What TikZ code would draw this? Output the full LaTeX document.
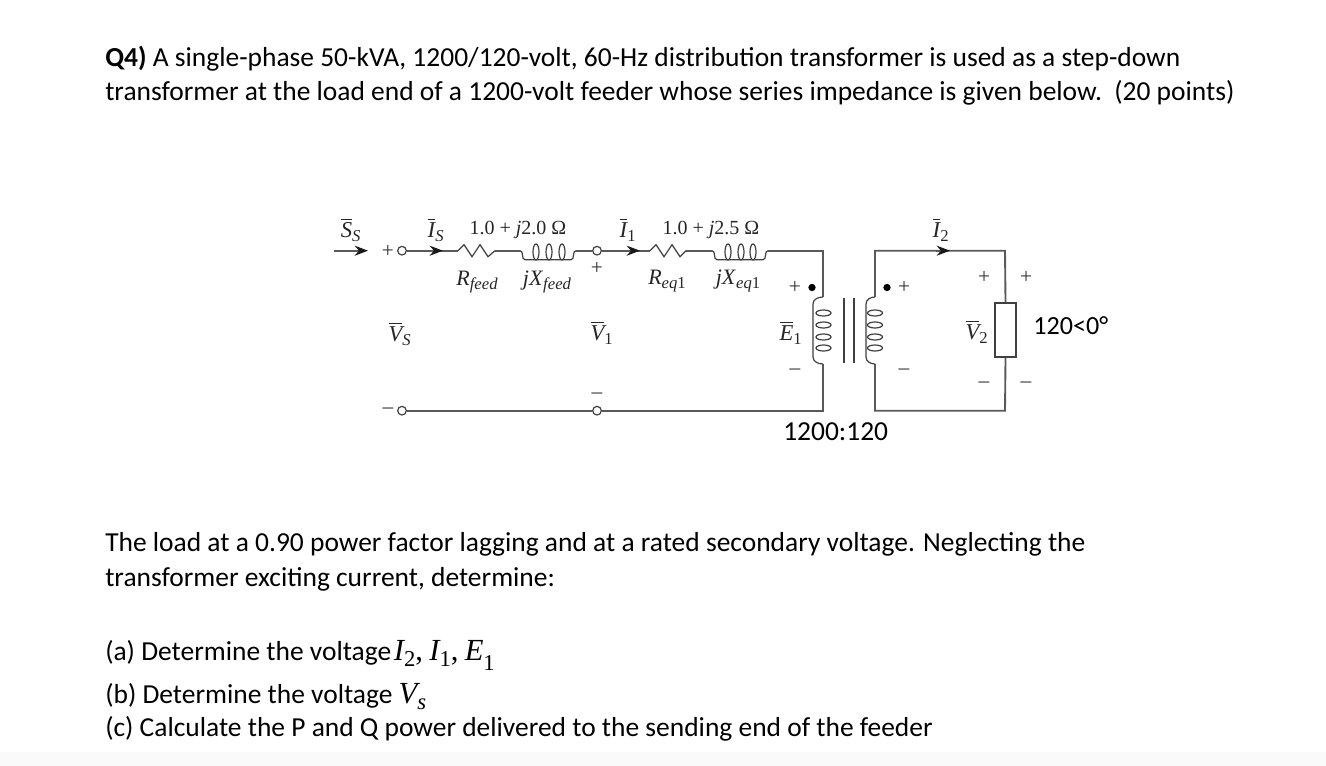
\documentclass[tikz,border=0pt]{standalone}
\usepackage{fontspec}
\setmainfont{Carlito}
\newfontfamily\cktfont{Liberation Serif}
\usetikzlibrary{
		arrows.meta,
		positioning
	}
\tikzset{
		>={Stealth[length=10pt,width=7.5pt,color=black!90]},
		wire/.style={draw=black!65, line width=1.4pt},
		thinwire/.style={draw=black!75, line width=0.9pt},
		terminal/.style={circle, draw=black!75, fill=white, line width=0.9pt, inner sep=0pt, minimum size=6.5pt},
		bodytext/.style={anchor=base west, inner sep=0pt, font=\fontsize{20.6}{24}\selectfont},
		cktlabel/.style={inner sep=0pt, text=black!85, font=\fontsize{15}{17}\selectfont\cktfont},
		sign/.style={inner sep=0pt, text=black!80, font=\fontsize{16}{18}\selectfont\cktfont},
		dotmark/.style={circle, fill=black, inner sep=0pt, minimum size=5.5pt},
		loadbox/.style={draw=black!75, fill=white, line width=1.2pt, inner sep=0pt, minimum width=15.5pt, minimum height=40.5pt}
	}
% a phasor label: letter with a bar and a subscript
\newcommand{\phasor}[2]{$\overline{\hbox{\rule{0pt}{12.6pt}\cktfont\fontsize{17}{19}\selectfont\itshape #1}}_{\hbox{\cktfont\fontsize{12.5}{14}\selectfont #2}}$}
\newcommand{\mathtxt}[2]{{\fontsize{#2}{#2}\selectfont\cktfont\itshape #1}}

\begin{document}
\begin{tikzpicture}[x=0.75pt,y=-0.75pt]
    \useasboundingbox (0,0) rectangle (1326,766);
    \fill[white] (0,0) rectangle (1326,766);
    \fill[black!2] (0,752) rectangle (1326,766);

    % the question text
    \node[bodytext] (line1) at (105,67) {\textbf{Q4)} A single-phase 50-kVA, 1200/120-volt, 60-Hz distribution transformer is used as a step-down};
    \node[bodytext] (line2) at (105,101) {transformer at the load end of a 1200-volt feeder whose series impedance is given below.\ \ (20 points)};
    \node[bodytext] (line3) at (105,551) {The load at a 0.90 power factor lagging and at a rated secondary voltage. Neglecting the};
    \node[bodytext] (line4) at (105,586) {transformer exciting current, determine:};
    \node[bodytext] (parta) at (105,660) {(a) Determine the voltage\hspace{2pt}\mathtxt{I}{23}\raisebox{-5pt}{\mathtxt{\upshape 2}{17}}\mathtxt{\upshape ,}{23} \mathtxt{I}{23}\raisebox{-5pt}{\mathtxt{\upshape 1}{17}}\mathtxt{\upshape ,}{23} \mathtxt{E}{23}\raisebox{-8pt}{\mathtxt{\upshape 1}{17}}};
    \node[bodytext] (partb) at (105,703) {(b) Determine the voltage \mathtxt{V}{23}\raisebox{-5pt}{\mathtxt{s}{17}}};
    \node[bodytext] (partc) at (105,736) {(c) Calculate the P and Q power delivered to the sending end of the feeder};

    % the points of the circuit (used later on by the wires)
    \coordinate (ss1) at (334,250.7);
    \coordinate (ss2) at (368,250.7);
    \node[terminal] (t1) at (402,250.7) {};
    \node[terminal] (t2) at (402,410.7) {};
    \node[terminal] (t3) at (597,250.7) {};
    \node[terminal] (t4) at (597,410.7) {};
    \coordinate (r1a) at (458,250.7);
    \coordinate (r1b) at (495,250.7);
    \coordinate (l1a) at (520,250.7);
    \coordinate (l1b) at (576,250.7);
    \coordinate (r2a) at (650,250.7);
    \coordinate (r2b) at (686,250.7);
    \coordinate (l2a) at (712,250.7);
    \coordinate (l2b) at (768,250.7);
    \coordinate (c1) at (823,250.7);
    \coordinate (c2) at (823,410.7);
    \coordinate (p1) at (823,297);
    \coordinate (p2) at (823,364);
    \coordinate (c3) at (875,250.7);
    \coordinate (c4) at (875,410.7);
    \coordinate (s1) at (875,297);
    \coordinate (s2) at (875,364);
    \coordinate (c5) at (1005,250.7);
    \coordinate (c6) at (1005,410.7);
    \node[loadbox] (load) at (1005.5,330) {};

    % the wires
    \draw[wire] (t1) -- (r1a);
    \draw[wire] (r1b) -- (l1a);
    \draw[wire] (l1b) -- (t3);
    \draw[wire] (t3) -- (r2a);
    \draw[wire] (r2b) -- (l2a);
    \draw[wire] (l2b) -- (c1) -- (p1);
    \draw[wire] (p2) -- (c2) -- (t4);
    \draw[wire] (t4) -- (t2);
    \draw[wire] (s1) -- (c3) -- (c5) -- (load.north);
    \draw[wire] (load.south) -- (c6) -- (c4) -- (s2);

    % the resistors
    \draw[thinwire] (r1a) -- ++(6,-6) -- ++(8,12) -- ++(8,-12) -- ++(8,12) -- ++(7,-6) -- (r1b);
    \draw[thinwire] (r2a) -- ++(6,-6) -- ++(8,12) -- ++(8,-12) -- ++(8,12) -- ++(6,-6) -- (r2b);

    % the inductors
    \draw[thinwire] (l1a) to[out=0,in=180] ++(5,9) -- ++(46,0) to[out=0,in=180] (l1b);
    \draw[thinwire] (l2a) to[out=0,in=180] ++(5,9) -- ++(46,0) to[out=0,in=180] (l2b);
    \foreach \cx in {536,549,562}
        \draw[thinwire] (\cx,252) ellipse (3 and 8);
    \foreach \cx in {728,741,753}
        \draw[thinwire] (\cx,252) ellipse (3 and 8);

    % the transformer
    \draw[thinwire] (p1) to[out=180,in=90] ++(-10,7) -- ++(0,53) to[out=-90,in=180] (p2);
    \draw[thinwire] (s1) to[out=180,in=90] ++(-9,7) -- ++(0,53) to[out=-90,in=180] (s2);
    \foreach \cy in {313,325,337,348} {
        \draw[thinwire] (823.5,\cy) ellipse (7.5 and 3);
        \draw[thinwire] (875,\cy) ellipse (7.5 and 3);
    }
    \draw[thinwire] (844,298) -- (844,363);
    \draw[thinwire] (854,298) -- (854,363);
    \node[dotmark] (dot1) at (812,287.5) {};
    \node[dotmark] (dot2) at (887,287.5) {};

    % the arrows
    \coordinate (a1) at (429,250.7);
    \coordinate (a2) at (443,250.7);
    \coordinate (a3) at (625,250.7);
    \coordinate (a4) at (640,250.7);
    \coordinate (a5) at (936,250.7);
    \coordinate (a6) at (950,250.7);
    \draw[wire,->] (ss1) -- (ss2);
    \draw[wire,->] (a1) -- (a2);
    \draw[wire,->] (a3) -- (a4);
    \draw[wire,->] (a5) -- (a6);

    % the labels
    \node[cktlabel] (Ss) at (351,230) {\phasor{S}{\itshape S}};
    \node[cktlabel] (Is) at (436,230) {\phasor{I}{\itshape S}};
    \node[cktlabel] (I1) at (628,230) {\phasor{I}{1}};
    \node[cktlabel] (I2) at (941,230) {\phasor{I}{2}};
    \node[cktlabel] (Vs) at (400,334) {\phasor{V}{\itshape S}};
    \node[cktlabel] (V1) at (602,333) {\phasor{V}{1}};
    \node[cktlabel] (E1) at (791,333) {\phasor{E}{1}};
    \node[cktlabel] (V2) at (977,332) {\phasor{V}{2}};
    \node[cktlabel] (z1) at (518,230) {1.0 + \textit{j}2.0 Ω};
    \node[cktlabel] (z2) at (711,230) {1.0 + \textit{j}2.5 Ω};
    \node[cktlabel] (Rf) at (477,282) {{\fontsize{16.5}{18}\selectfont\textit{R}}\raisebox{-3pt}{\fontsize{12.5}{14}\selectfont\textit{feed}}};
    \node[cktlabel] (Xf) at (547,282) {{\fontsize{16.5}{18}\selectfont\textit{jX}}\raisebox{-3pt}{\fontsize{12.5}{14}\selectfont\textit{feed}}};
    \node[cktlabel] (Rq) at (667,281) {{\fontsize{16.5}{18}\selectfont\textit{R}}\raisebox{-3pt}{\fontsize{12.5}{14}\selectfont\textit{eq}1}};
    \node[cktlabel] (Xq) at (738,281) {{\fontsize{16.5}{18}\selectfont\textit{jX}}\raisebox{-3pt}{\fontsize{12.5}{14}\selectfont\textit{eq}1}};

    % the signs
    \foreach \px/\py/\pname in {388/251/a,597/268/b,795/287/c,904/287/d,984/277/e,1026/277/f}
        \node[sign] (plus\pname) at (\px,\py) {+};
    \foreach \mx/\my/\mname in {388/411/a,597/396/b,795/372/c,904/372/d,984/385/e,1026/385/f}
        \node[sign] (minus\mname) at (\mx,\my) {–};

    % the ratings
    \node[bodytext] (ratio) at (783,440) {1200:120};
    \node[bodytext, font=\fontsize{19.6}{23}\selectfont] (vload) at (1033,334) {120<0°};
\end{tikzpicture}
\end{document}
